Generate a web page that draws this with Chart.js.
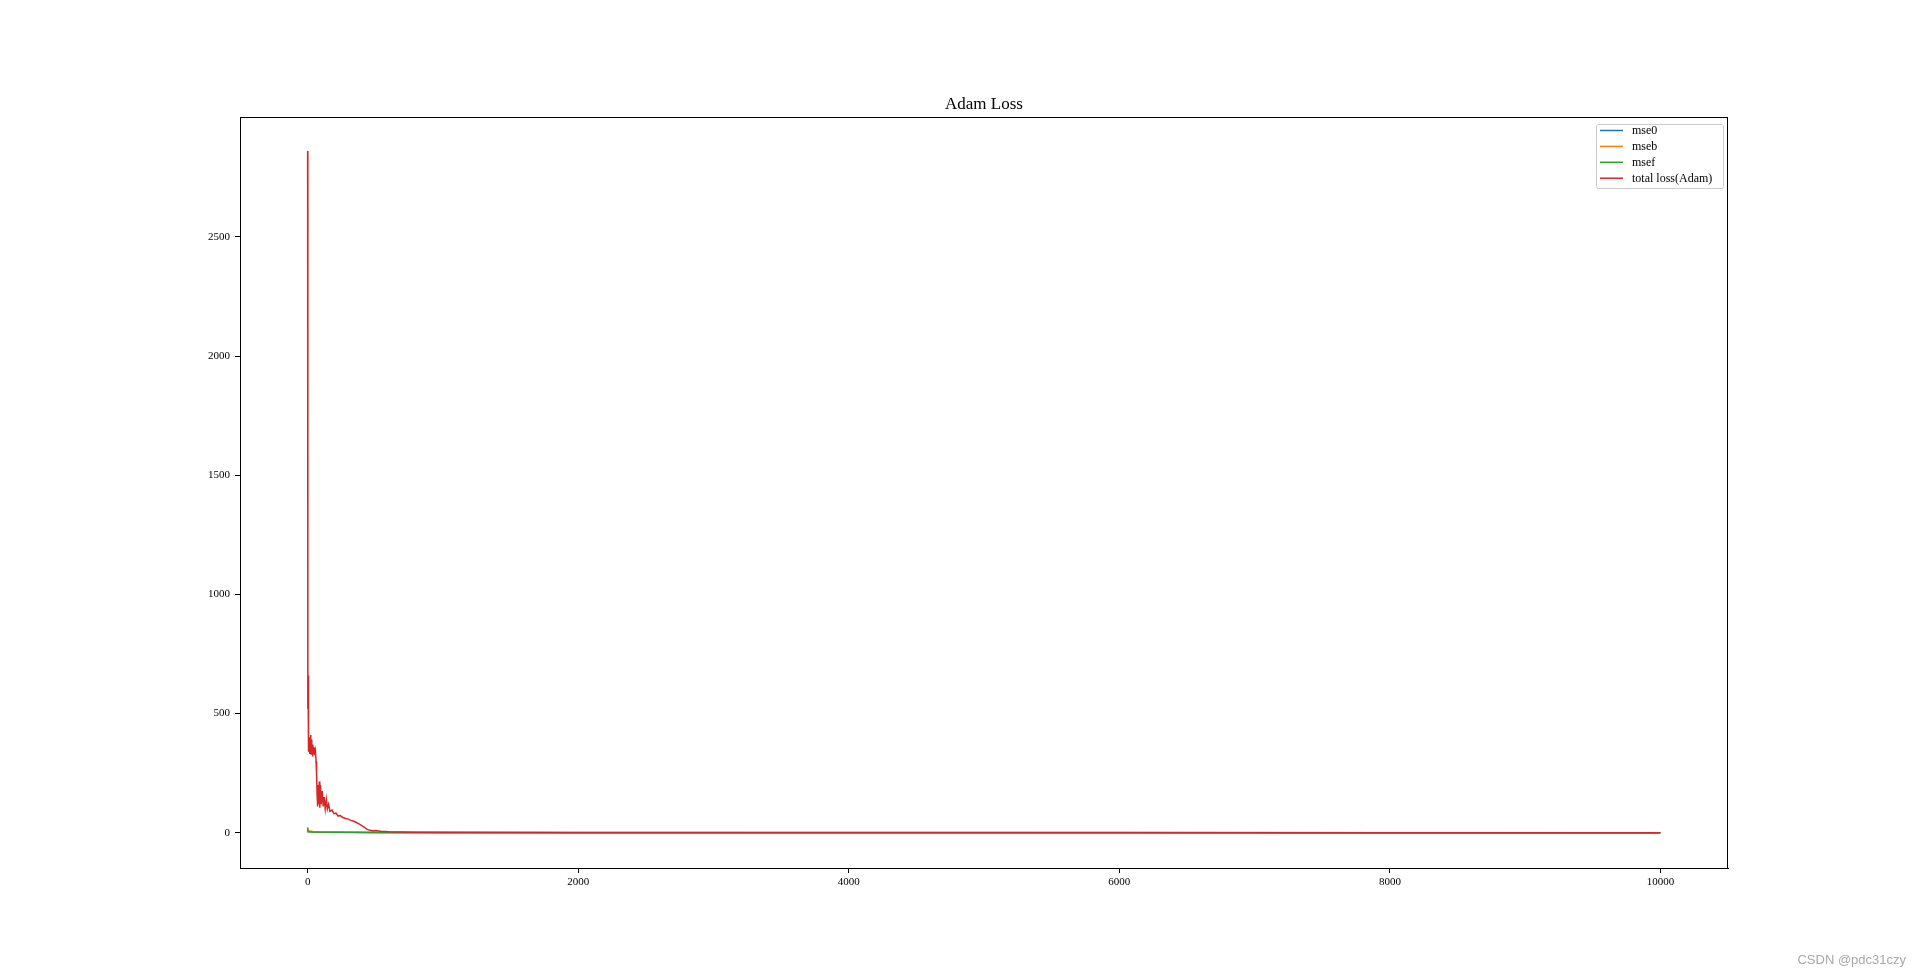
<!DOCTYPE html>
<html>
<head>
<meta charset="utf-8">
<title>Adam Loss</title>
<script src="https://cdn.jsdelivr.net/npm/chart.js@4.4.1/dist/chart.umd.min.js"></script>
<style>
  html, body { margin: 0; padding: 0; background: #fff; }
  canvas { display: block; }
</style>
</head>
<body>
<canvas id="lossChart" width="1920" height="975"></canvas>
<script>
// Adam training loss curves

const xTicks = [0, 2000, 4000, 6000, 8000, 10000];
const yTicks = [0, 500, 1000, 1500, 2000, 2500];

// total loss(Adam)
const totalX = [0, 1, 2, 3, 4, 5, 6, 8, 10, 12, 14, 17, 20, 23, 26, 29, 32, 35, 38, 42, 46, 50, 54, 58, 62, 66, 70, 74, 78, 82, 86, 90, 95, 100, 108, 115, 122, 130, 138, 146, 155, 165, 180, 195, 210, 225, 240, 260, 280, 300, 320, 340, 360, 380, 400, 420, 440, 460, 480, 500, 540, 600, 700, 800, 1000, 2000, 4000, 6000, 8000, 9999];
const totalY = [2860, 760, 520, 660, 380, 470, 350, 420, 340, 400, 330, 380, 345, 410, 330, 390, 340, 370, 320, 360, 330, 355, 325, 340, 300, 250, 160, 110, 200, 120, 215, 105, 200, 120, 175, 110, 150, 100, 140, 100, 120, 90, 95, 80, 82, 70, 72, 64, 60, 57, 52, 48, 43, 37, 30, 22, 14, 10, 8, 9, 6, 4, 3, 2, 1.5, 1, 0.7, 0.5, 0.3, 0.2];

// mse0
const mse0X = [0, 100, 500, 2000, 9999];
const mse0Y = [5, 2, 0.5, 0.2, 0.05];

// mseb
const msebX = [0, 50, 200, 500, 1000, 9999];
const msebY = [8, 4, 3, 1, 0.5, 0.1];

// msef
const msefX = [0, 2, 30, 200, 500, 1000, 9999];
const msefY = [22, 4, 3, 2, 1, 0.3, 0.05];

const xMin = -500, xMax = 10499;
const yMin = -148, yMax = 3003;

function toPoints(xs, ys) {
  return xs.map((x, i) => ({ x: x, y: ys[i] }));
}

// only the listed ticks get a tick mark
function tickColor(list) {
  return (c) => (c.tick && list.includes(c.tick.value)) ? '#000' : 'rgba(0,0,0,0)';
}

const SERIF = '"Liberation Serif", "DejaVu Serif", serif';

// Frame, title, legend and watermark, drawn the matplotlib way
const decorPlugin = {
  id: 'decor',
  afterDraw(chart) {
    const ctx = chart.ctx;
    const a = chart.chartArea;
    ctx.save();

    // full box around the axes
    ctx.strokeStyle = '#000';
    ctx.lineWidth = 1;
    ctx.strokeRect(Math.round(a.left) + 0.5, Math.round(a.top) + 0.5,
                   Math.round(a.right - a.left) - 1, Math.round(a.bottom - a.top));

    // title
    ctx.fillStyle = '#000';
    ctx.font = '17px ' + SERIF;
    ctx.textAlign = 'center';
    ctx.textBaseline = 'middle';
    ctx.fillText('Adam Loss', (a.left + a.right) / 2, 105);

    // legend in the upper right corner
    const boxW = 127, boxH = 64;
    const bx = a.right - 5 - boxW, by = a.top + 7;
    ctx.fillStyle = 'rgba(255,255,255,0.8)';
    ctx.strokeStyle = '#cccccc';
    ctx.beginPath();
    ctx.roundRect(bx + 0.5, by + 0.5, boxW, boxH, 2);
    ctx.fill();
    ctx.stroke();

    ctx.font = '12px ' + SERIF;
    ctx.textAlign = 'left';
    chart.data.datasets.forEach((ds, i) => {
      const ly = by + 6.5 + i * 15.9;
      ctx.strokeStyle = ds.borderColor;
      ctx.lineWidth = 1.5;
      ctx.beginPath();
      ctx.moveTo(bx + 4, ly);
      ctx.lineTo(bx + 27, ly);
      ctx.stroke();
      ctx.fillStyle = '#000';
      ctx.fillText(ds.label, bx + 36, ly + 0.5);
    });

    // watermark
    ctx.font = '13px "Liberation Sans", Arial, sans-serif';
    ctx.fillStyle = '#a8a8a8';
    ctx.textAlign = 'right';
    ctx.fillText('CSDN @pdc31czy', 1906, 960);

    ctx.restore();
  }
};

new Chart(document.getElementById('lossChart'), {
  type: 'line',
  data: {
    datasets: [
      // lower order is drawn on top, so the total loss ends up over the others
      { label: 'mse0', data: toPoints(mse0X, mse0Y), borderColor: '#1f77b4', order: 4 },
      { label: 'mseb', data: toPoints(msebX, msebY), borderColor: '#ff7f0e', order: 3 },
      { label: 'msef', data: toPoints(msefX, msefY), borderColor: '#2ca02c', order: 2 },
      { label: 'total loss(Adam)', data: toPoints(totalX, totalY), borderColor: '#d62728', order: 1 }
    ]
  },
  options: {
    responsive: false,
    animation: false,
    devicePixelRatio: 1,
    layout: { padding: { top: 117, right: 192, bottom: 0, left: 0 } },
    elements: {
      line: { borderWidth: 1.5, tension: 0, fill: false },
      point: { radius: 0, hoverRadius: 0 }
    },
    plugins: {
      legend: { display: false },
      title: { display: false },
      tooltip: { enabled: false }
    },
    scales: {
      x: {
        type: 'linear',
        min: xMin,
        max: xMax,
        afterFit: (scale) => { scale.height = 107; },
        afterBuildTicks: (scale) => { scale.ticks = xTicks.map(v => ({ value: v })); },
        grid: { drawOnChartArea: false, drawTicks: true, tickLength: 5, color: tickColor(xTicks) },
        border: { display: true, color: '#000', width: 1 },
        ticks: {
          color: '#000',
          padding: 3,
          maxRotation: 0,
          autoSkip: false,
          font: { family: SERIF, size: 11 },
          callback: (v) => String(v)
        }
      },
      y: {
        type: 'linear',
        min: yMin,
        max: yMax,
        afterFit: (scale) => { scale.width = 240; },
        afterBuildTicks: (scale) => { scale.ticks = yTicks.map(v => ({ value: v })); },
        grid: { drawOnChartArea: false, drawTicks: true, tickLength: 5, color: tickColor(yTicks) },
        border: { display: true, color: '#000', width: 1 },
        ticks: {
          color: '#000',
          padding: 5,
          autoSkip: false,
          font: { family: SERIF, size: 11 },
          callback: (v) => String(v)
        }
      }
    }
  },
  plugins: [decorPlugin]
});
</script>
</body>
</html>
